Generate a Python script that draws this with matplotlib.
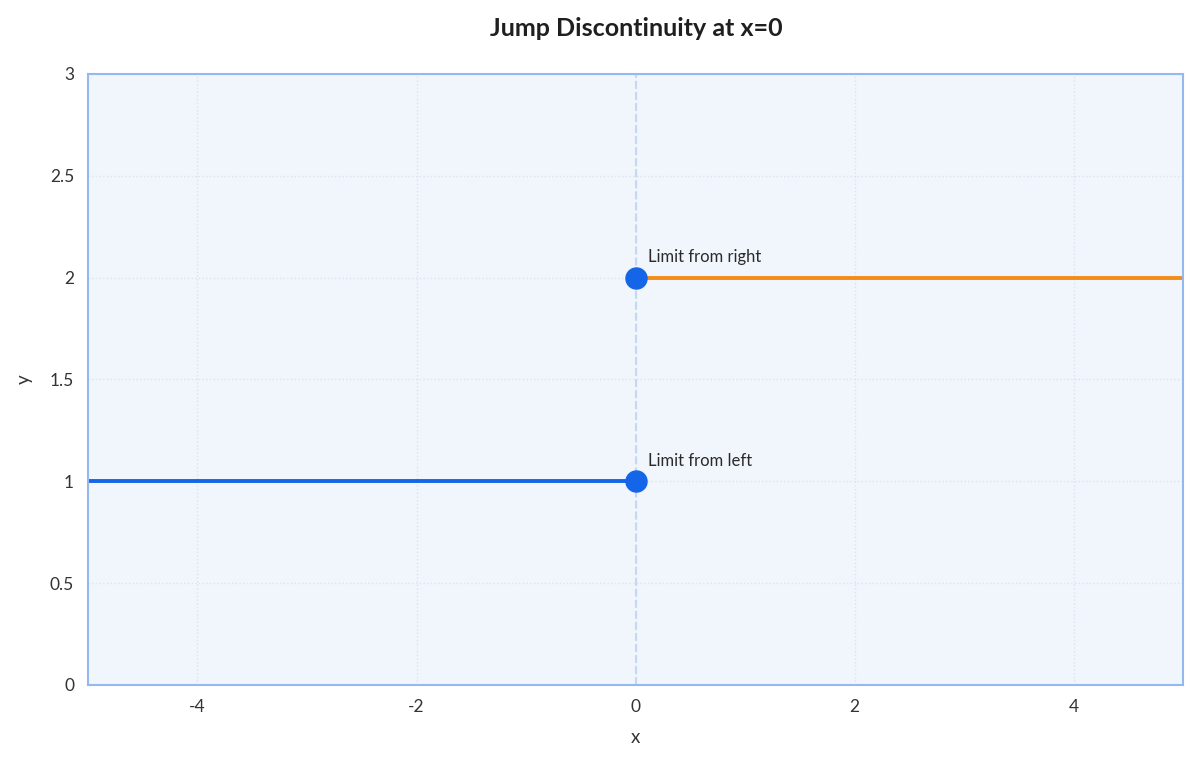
import matplotlib
matplotlib.use("Agg")
import matplotlib.pyplot as plt

plt.rcParams['font.family'] = ['Lato', 'DejaVu Sans']
plt.rcParams['axes.unicode_minus'] = False

left_x = [-5, 0]
left_y = [1, 1]
right_x = [0, 5]
right_y = [2, 2]
points_x = [0, 0]
points_y = [1, 2]
labels = ["Limit from left", "Limit from right"]
xticks = [-4, -2, 0, 2, 4]
yticks = [0, 0.5, 1, 1.5, 2, 2.5, 3]
yticklabels = ["0", "0.5", "1", "1.5", "2", "2.5", "3"]

fig = plt.figure(figsize=(12, 7.61), dpi=100)
ax = fig.add_axes([0.0733, 0.0999, 0.9127, 0.8029])
ax.set_facecolor('#f1f6fd')
ax.grid(True, linestyle=':', color='#dde3ec', linewidth=1)
ax.set_axisbelow(True)
ax.axvline(0, color='#c3d8f7', linestyle='--', linewidth=1.5, zorder=1)
ax.plot(left_x, left_y, color='#1565e8', linewidth=2.8, zorder=2)
ax.plot(right_x, right_y, color='#f28c1a', linewidth=2.8, zorder=2)
ax.scatter(points_x, points_y, s=230, color='#1565e8', zorder=3)
for x, y, t in zip(points_x, points_y, labels):
    ax.annotate(t, (x, y), xytext=(9, 11), textcoords='offset points',
                fontsize=12, color='#2a2a2a')
ax.set_xlim(-5, 5)
ax.set_ylim(0, 3)
ax.set_xticks(xticks)
ax.set_yticks(yticks)
ax.set_yticklabels(yticklabels)
ax.tick_params(length=0, labelsize=12.5, colors='#333333', pad=10)
for s in ax.spines.values():
    s.set_color('#93b9f0')
    s.set_linewidth(1.5)
ax.set_xlabel('x', fontsize=13.5, color='#333333', labelpad=10)
ax.set_ylabel('y', fontsize=13.5, color='#333333', labelpad=12)
fig.text(0.53, 0.962, 'Jump Discontinuity at x=0', ha='center', va='center',
         fontsize=18, fontweight='bold', color='#1f1f1f')
fig.savefig('out.png', dpi=100, facecolor='white')
